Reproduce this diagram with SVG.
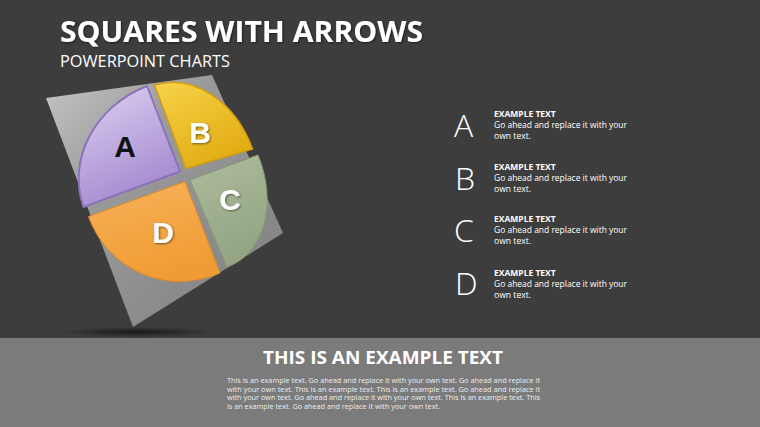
<svg xmlns="http://www.w3.org/2000/svg" width="760" height="427" viewBox="0 0 760 427">
<defs>
<style>
.title{font-family:"Open Sans","Liberation Sans",sans-serif;font-weight:700;fill:#ffffff}
.sub{font-family:"Open Sans","Liberation Sans",sans-serif;fill:#ffffff}
.big{font-family:"Liberation Sans",Arial,sans-serif;font-weight:700;font-size:30px;text-anchor:middle}
.letter{font-family:"Open Sans","Liberation Sans",sans-serif;font-weight:300;font-size:32px;fill:#ffffff}
.h{font-family:"Open Sans","Liberation Sans",sans-serif;font-weight:700;font-size:8.5px;fill:#ffffff}
.b{font-family:"Open Sans","Liberation Sans",sans-serif;font-size:8.6px;fill:#ffffff}
.bt{font-family:"Open Sans","Liberation Sans",sans-serif;font-size:7.6px;fill:#eeeeee}
</style>
<linearGradient id="gSq" x1="0" y1="0" x2="1" y2="1">
<stop offset="0" stop-color="#c4c4c4"/><stop offset="0.35" stop-color="#9a9a9a"/><stop offset="1" stop-color="#7e7e7e"/>
</linearGradient>
<linearGradient id="gA" x1="0" y1="0" x2="0.4" y2="1">
<stop offset="0" stop-color="#ddd2f2"/><stop offset="1" stop-color="#a48ad0"/>
</linearGradient>
<linearGradient id="gB" x1="0" y1="0" x2="0.6" y2="1">
<stop offset="0" stop-color="#f6d34a"/><stop offset="1" stop-color="#e2ac12"/>
</linearGradient>
<linearGradient id="gC" x1="0" y1="0" x2="0.3" y2="1">
<stop offset="0" stop-color="#aebd9d"/><stop offset="1" stop-color="#93a583"/>
</linearGradient>
<linearGradient id="gD" x1="0" y1="0" x2="0.3" y2="1">
<stop offset="0" stop-color="#f7b25a"/><stop offset="1" stop-color="#f09c34"/>
</linearGradient>
<radialGradient id="gSh" cx="0.5" cy="0.5" r="0.5">
<stop offset="0" stop-color="#000" stop-opacity="0.6"/><stop offset="1" stop-color="#000" stop-opacity="0"/>
</radialGradient>
<filter id="ts" x="-20%" y="-20%" width="140%" height="140%">
<feDropShadow dx="1" dy="1" stdDeviation="0.8" flood-color="#000" flood-opacity="0.5"/>
</filter>
</defs>
<rect width="760" height="427" fill="#3d3d3d"/>
<rect x="0" y="338" width="760" height="89" fill="#7b7b7b"/>

<g id="title">
<text class="title" x="60" y="42" font-size="28.5" textLength="363" lengthAdjust="spacingAndGlyphs" filter="url(#ts)">SQUARES WITH ARROWS</text>
<text class="sub" x="60" y="67" font-size="15.5" textLength="170" lengthAdjust="spacingAndGlyphs">POWERPOINT CHARTS</text>
</g>

<g id="square">
<ellipse cx="138" cy="332" rx="80" ry="5" fill="url(#gSh)"/>
<polygon points="46,98 212,75 283,233 133,327" fill="url(#gSq)"/>
</g>

<g id="piece-A">
<path d="M180,171.5 L147,86 C94.6,106.3 66.8,160.1 83.5,207 Z" fill="url(#gA)" stroke="#8c72bb" stroke-width="2" stroke-linejoin="round"/>
<text class="big" x="125" y="157" fill="#111111">A</text>
</g>
<g id="piece-B">
<path d="M186,168.5 L154.5,85 C194,73 235.4,102.2 252.5,149 Z" fill="url(#gB)" stroke="#d29e10" stroke-width="1.5" stroke-linejoin="round"/>
<text class="big" x="200" y="143" fill="#ffffff" filter="url(#ts)">B</text>
</g>
<g id="piece-C">
<path d="M190,180 L258,155 C278,204 264,254 227,267 Z" fill="url(#gC)" stroke="#889a78" stroke-width="1" stroke-linejoin="round"/>
<text class="big" x="230" y="210" fill="#ffffff" filter="url(#ts)">C</text>
</g>
<g id="piece-D">
<path d="M185,181.5 L88.5,216.5 C108,270 166,296 220,273 Z" fill="url(#gD)" stroke="#e08a24" stroke-width="1" stroke-linejoin="round"/>
<text class="big" x="163" y="243" fill="#ffffff" filter="url(#ts)">D</text>
</g>

<g id="legend-A">
<text class="letter" x="454" y="137">A</text>
<text class="h" x="494" y="116.5">EXAMPLE TEXT</text>
<text class="b" x="494" y="128" textLength="133" lengthAdjust="spacingAndGlyphs">Go ahead and replace it with your</text>
<text class="b" x="494" y="139">own text.</text>
</g>
<g id="legend-B">
<text class="letter" x="455" y="190">B</text>
<text class="h" x="494" y="169.5">EXAMPLE TEXT</text>
<text class="b" x="494" y="181" textLength="133" lengthAdjust="spacingAndGlyphs">Go ahead and replace it with your</text>
<text class="b" x="494" y="192">own text.</text>
</g>
<g id="legend-C">
<text class="letter" x="454" y="242">C</text>
<text class="h" x="494" y="221.5">EXAMPLE TEXT</text>
<text class="b" x="494" y="233" textLength="133" lengthAdjust="spacingAndGlyphs">Go ahead and replace it with your</text>
<text class="b" x="494" y="244">own text.</text>
</g>
<g id="legend-D">
<text class="letter" x="455" y="295">D</text>
<text class="h" x="494" y="275.5">EXAMPLE TEXT</text>
<text class="b" x="494" y="287" textLength="133" lengthAdjust="spacingAndGlyphs">Go ahead and replace it with your</text>
<text class="b" x="494" y="298">own text.</text>
</g>

<g id="footer">
<text class="title" x="383" y="364" font-size="18" text-anchor="middle" textLength="240" lengthAdjust="spacingAndGlyphs">THIS IS AN EXAMPLE TEXT</text>
<text class="bt" x="227" y="383" textLength="313" lengthAdjust="spacingAndGlyphs">This is an example text. Go ahead and replace it with your own text. Go ahead and replace it</text>
<text class="bt" x="227" y="391.5" textLength="313" lengthAdjust="spacingAndGlyphs">with your own text. This is an example text. This is an example text. Go ahead and replace it</text>
<text class="bt" x="227" y="400" textLength="313" lengthAdjust="spacingAndGlyphs">with your own text. Go ahead and replace it with your own text. This is an example text. This</text>
<text class="bt" x="227" y="408.5" textLength="213" lengthAdjust="spacingAndGlyphs">is an example text. Go ahead and replace it with your own text.</text>
</g>
</svg>
